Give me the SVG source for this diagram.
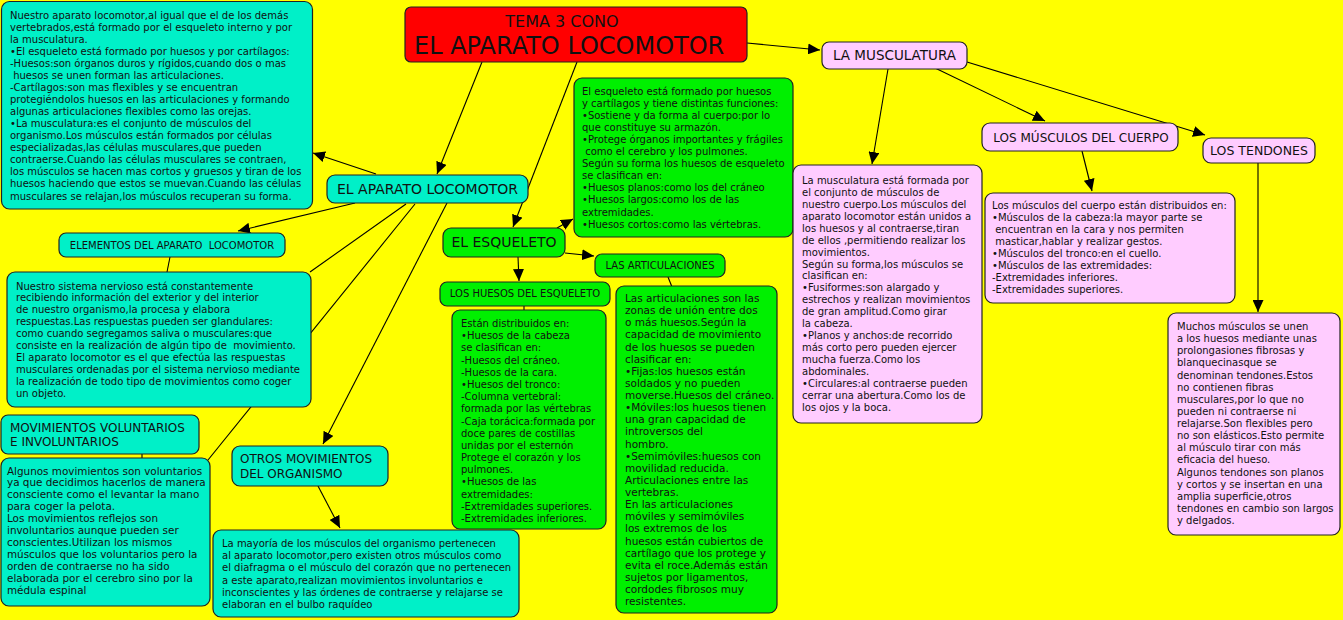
<svg xmlns="http://www.w3.org/2000/svg" width="1343" height="620" viewBox="0 0 1343 620">
<style>
text{font-family:"DejaVu Sans",Verdana,sans-serif;fill:#111;white-space:pre}
.b{font-size:10px}
.b11{font-size:10.4px}
.ba{font-size:10.5px}
.lab{font-size:10px}
.c{text-anchor:middle}
.cy{fill:#00F0C8;stroke:#222;stroke-width:1.2}
.gr{fill:#00F000;stroke:#222;stroke-width:1.2}
.pk{fill:#FFCCFF;stroke:#222;stroke-width:1.2}
.rd{fill:#FF0000;stroke:#222;stroke-width:1.2}
.ln{stroke:#000;stroke-width:1.1;fill:none}
.ar{marker-end:url(#ah)}
</style>
<defs>
<marker id="ah" markerWidth="13" markerHeight="11" refX="12" refY="5.5" orient="auto" markerUnits="userSpaceOnUse"><path d="M0,0 L12,5.5 L0,11 z" fill="#000"/></marker>
</defs>
<rect x="0" y="0" width="1343" height="620" fill="#FFFF00"/>
<g id="connectors">
<path class="ln ar" d="M747,43 L820,50"/>
<path class="ln ar" d="M482,62 L437,174"/>
<path class="ln ar" d="M577,62 L513,227"/>
<path class="ln ar" d="M376,174 L313,153"/>
<path class="ln ar" d="M355,203 L238,231"/>
<path class="ln" d="M406,204 L310,272"/>
<path class="ln" d="M415,204 L208,460"/>
<path class="ln ar" d="M447,203 L323,444"/>
<path class="ln" d="M170,257 L167,272"/>
<path class="ln" d="M142,454 L142,459"/>
<path class="ln ar" d="M318,486 L340,528"/>
<path class="ln ar" d="M557,228 L573,219"/>
<path class="ln ar" d="M565,253 L594,256"/>
<path class="ln ar" d="M518,257 L519,281"/>
<path class="ln" d="M524,306 L524,311"/>
<path class="ln" d="M668,277 L672,287"/>
<path class="ln ar" d="M888,69 L872,164"/>
<path class="ln ar" d="M935,68 L1045,121"/>
<path class="ln ar" d="M967,62 L1205,135"/>
<path class="ln ar" d="M1082,151 L1092,191"/>
<path class="ln ar" d="M1258,163 L1258,312"/>
</g>
<g id="intro">
<rect class="cy" x="1.5" y="1.5" width="311" height="207.5" rx="8"/>
<text class="b" x="10" y="18.5"><tspan x="10">Nuestro aparato locomotor,al igual que el de los demás</tspan><tspan x="10" dy="12.07">vertebrados,está formado por el esqueleto interno y por</tspan><tspan x="10" dy="12.07">la musculatura.</tspan><tspan x="10" dy="12.07">•El esqueleto está formado por huesos y por cartílagos:</tspan><tspan x="10" dy="12.07">-Huesos:son órganos duros y rígidos,cuando dos o mas</tspan><tspan x="10" dy="12.07"> huesos se unen forman las articulaciones.</tspan><tspan x="10" dy="12.07">-Cartílagos:son mas flexibles y se encuentran</tspan><tspan x="10" dy="12.07">protegiéndolos huesos en las articulaciones y formando</tspan><tspan x="10" dy="12.07">algunas articulaciones flexibles como las orejas.</tspan><tspan x="10" dy="12.07">•La musculatura:es el conjunto de músculos del</tspan><tspan x="10" dy="12.07">organismo.Los músculos están formados por células</tspan><tspan x="10" dy="12.07">especializadas,las células musculares,que pueden</tspan><tspan x="10" dy="12.07">contraerse.Cuando las células musculares se contraen,</tspan><tspan x="10" dy="12.07">los músculos se hacen mas cortos y gruesos y tiran de los</tspan><tspan x="10" dy="12.07">huesos haciendo que estos se muevan.Cuando las células</tspan><tspan x="10" dy="12.07">musculares se relajan,los músculos recuperan su forma.</tspan></text>
</g>
<g id="title">
<rect class="rd" x="405" y="7" width="342" height="55" rx="6"/>
<text x="562" y="27" class="c" style="font-size:16px">TEMA 3 CONO</text>
<text x="414" y="54" style="font-size:24px">EL APARATO LOCOMOTOR</text>
</g>
<g id="la-musculatura">
<rect class="pk" x="822" y="42" width="145" height="27" rx="7"/>
<text x="894.5" y="60" class="c" style="font-size:13.5px">LA MUSCULATURA</text>
</g>
<g id="aparato-locomotor">
<rect class="cy" x="327" y="175" width="201" height="28" rx="8"/>
<text x="427.5" y="194" class="c" style="font-size:14px">EL APARATO LOCOMOTOR</text>
</g>
<g id="elementos">
<rect class="cy" x="59" y="233" width="226" height="24" rx="7"/>
<text x="172" y="248.5" class="c lab">ELEMENTOS DEL APARATO  LOCOMOTOR</text>
</g>
<g id="nervioso">
<rect class="cy" x="7" y="272" width="304" height="135" rx="8"/>
<text class="b" x="16" y="289.5"><tspan x="16">Nuestro sistema nervioso está constantemente</tspan><tspan x="16" dy="11.9">recibiendo información del exterior y del interior</tspan><tspan x="16" dy="11.9">de nuestro organismo,la procesa y elabora</tspan><tspan x="16" dy="11.9">respuestas.Las respuestas pueden ser glandulares:</tspan><tspan x="16" dy="11.9">como cuando segregamos saliva o musculares:que</tspan><tspan x="16" dy="11.9">consiste en la realización de algún tipo de  movimiento.</tspan><tspan x="16" dy="11.9">El aparato locomotor es el que efectúa las respuestas</tspan><tspan x="16" dy="11.9">musculares ordenadas por el sistema nervioso mediante</tspan><tspan x="16" dy="11.9">la realización de todo tipo de movimientos como coger</tspan><tspan x="16" dy="11.9">un objeto.</tspan></text>
</g>
<g id="movimientos">
<rect class="cy" x="1" y="415" width="198" height="39" rx="7"/>
<text x="10" y="432" style="font-size:12px"><tspan x="10">MOVIMIENTOS VOLUNTARIOS</tspan><tspan x="10" dy="14">E INVOLUNTARIOS</tspan></text>
</g>
<g id="voluntarios">
<rect class="cy" x="1" y="458" width="209" height="148" rx="8"/>
<text class="b11" x="7" y="474.5"><tspan x="7">Algunos movimientos son voluntarios</tspan><tspan x="7" dy="11.9">ya que decidimos hacerlos de manera</tspan><tspan x="7" dy="11.9">consciente como el levantar la mano</tspan><tspan x="7" dy="11.9">para coger la pelota.</tspan><tspan x="7" dy="11.9">Los movimientos reflejos son</tspan><tspan x="7" dy="11.9">involuntarios aunque pueden ser</tspan><tspan x="7" dy="11.9">conscientes.Utilizan los mismos</tspan><tspan x="7" dy="11.9">músculos que los voluntarios pero la</tspan><tspan x="7" dy="11.9">orden de contraerse no ha sido</tspan><tspan x="7" dy="11.9">elaborada por el cerebro sino por la</tspan><tspan x="7" dy="11.9">médula espinal</tspan></text>
</g>
<g id="otros">
<rect class="cy" x="232" y="446" width="156" height="40" rx="8"/>
<text x="240" y="462.5" style="font-size:12px"><tspan x="240">OTROS MOVIMIENTOS</tspan><tspan x="240" dy="15">DEL ORGANISMO</tspan></text>
</g>
<g id="mayoria">
<rect class="cy" x="213" y="530" width="306" height="87" rx="8"/>
<text class="b" x="222" y="547"><tspan x="222">La mayoría de los músculos del organismo pertenecen</tspan><tspan x="222" dy="12.2">al aparato locomotor,pero existen otros músculos como</tspan><tspan x="222" dy="12.2">el diafragma o el músculo del corazón que no pertenecen</tspan><tspan x="222" dy="12.2">a este aparato,realizan movimientos involuntarios e</tspan><tspan x="222" dy="12.2">inconscientes y las órdenes de contraerse y relajarse se</tspan><tspan x="222" dy="12.2">elaboran en el bulbo raquídeo</tspan></text>
</g>
<g id="esqueleto">
<rect class="gr" x="443" y="228" width="122" height="29" rx="8"/>
<text x="504" y="246.5" class="c" style="font-size:14px">EL ESQUELETO</text>
</g>
<g id="esqueleto-funciones">
<rect class="gr" x="574" y="78" width="219" height="159" rx="8"/>
<text class="b" x="582" y="94.5"><tspan x="582">El esqueleto está formado por huesos</tspan><tspan x="582" dy="12.1">y cartílagos y tiene distintas funciones:</tspan><tspan x="582" dy="12.1">•Sostiene y da forma al cuerpo:por lo</tspan><tspan x="582" dy="12.1">que constituye su armazón.</tspan><tspan x="582" dy="12.1">•Protege órganos importantes y frágiles</tspan><tspan x="582" dy="12.1"> como el cerebro y los pulmones.</tspan><tspan x="582" dy="12.1">Según su forma los huesos de esqueleto</tspan><tspan x="582" dy="12.1">se clasifican en:</tspan><tspan x="582" dy="12.1">•Huesos planos:como los del cráneo</tspan><tspan x="582" dy="12.1">•Huesos largos:como los de las</tspan><tspan x="582" dy="12.1">extremidades.</tspan><tspan x="582" dy="12.1">•Huesos cortos:como las vértebras.</tspan></text>
</g>
<g id="huesos-label">
<rect class="gr" x="440" y="282" width="170" height="24" rx="7"/>
<text x="525" y="297" class="c lab">LOS HUESOS DEL ESQUELETO</text>
</g>
<g id="huesos-box">
<rect class="gr" x="452" y="310" width="154" height="219" rx="8"/>
<text class="b" x="461" y="327"><tspan x="461">Están distribuidos en:</tspan><tspan x="461" dy="12.19">•Huesos de la cabeza</tspan><tspan x="461" dy="12.19">se clasifican en:</tspan><tspan x="461" dy="12.19">-Huesos del cráneo.</tspan><tspan x="461" dy="12.19">-Huesos de la cara.</tspan><tspan x="461" dy="12.19">•Huesos del tronco:</tspan><tspan x="461" dy="12.19">-Columna vertebral:</tspan><tspan x="461" dy="12.19">formada por las vértebras</tspan><tspan x="461" dy="12.19">-Caja torácica:formada por</tspan><tspan x="461" dy="12.19">doce pares de costillas</tspan><tspan x="461" dy="12.19">unidas por el esternón</tspan><tspan x="461" dy="12.19">Protege el corazón y los</tspan><tspan x="461" dy="12.19">pulmones.</tspan><tspan x="461" dy="12.19">•Huesos de las</tspan><tspan x="461" dy="12.19">extremidades:</tspan><tspan x="461" dy="12.19">-Extremidades superiores.</tspan><tspan x="461" dy="12.19">-Extremidades inferiores.</tspan></text>
</g>
<g id="articulaciones-label">
<rect class="gr" x="595" y="254" width="130" height="23" rx="7"/>
<text x="660" y="269" class="c lab">LAS ARTICULACIONES</text>
</g>
<g id="articulaciones-box">
<rect class="gr" x="616" y="286" width="161" height="327" rx="8"/>
<text class="ba" x="625" y="302"><tspan x="625">Las articulaciones son las</tspan><tspan x="625" dy="12.13">zonas de unión entre dos</tspan><tspan x="625" dy="12.13">o más huesos.Según la</tspan><tspan x="625" dy="12.13">capacidad de movimiento</tspan><tspan x="625" dy="12.13">de los huesos se pueden</tspan><tspan x="625" dy="12.13">clasificar en:</tspan><tspan x="625" dy="12.13">•Fijas:los huesos están</tspan><tspan x="625" dy="12.13">soldados y no pueden</tspan><tspan x="625" dy="12.13">moverse.Huesos del cráneo.</tspan><tspan x="625" dy="12.13">•Móviles:los huesos tienen</tspan><tspan x="625" dy="12.13">una gran capacidad de</tspan><tspan x="625" dy="12.13">introversos del</tspan><tspan x="625" dy="12.13">hombro.</tspan><tspan x="625" dy="12.13">•Semimóviles:huesos con</tspan><tspan x="625" dy="12.13">movilidad reducida.</tspan><tspan x="625" dy="12.13">Articulaciones entre las</tspan><tspan x="625" dy="12.13">vertebras.</tspan><tspan x="625" dy="12.13">En las articulaciones</tspan><tspan x="625" dy="12.13">móviles y semimóviles</tspan><tspan x="625" dy="12.13">los extremos de los</tspan><tspan x="625" dy="12.13">huesos están cubiertos de</tspan><tspan x="625" dy="12.13">cartílago que los protege y</tspan><tspan x="625" dy="12.13">evita el roce.Además están</tspan><tspan x="625" dy="12.13">sujetos por ligamentos,</tspan><tspan x="625" dy="12.13">cordodes fibrosos muy</tspan><tspan x="625" dy="12.13">resistentes.</tspan></text>
</g>
<g id="musculatura-box">
<rect class="pk" x="793" y="165" width="189" height="258" rx="8"/>
<text class="b" x="802" y="184"><tspan x="802">La musculatura está formada por</tspan><tspan x="802" dy="11.93">el conjunto de músculos de</tspan><tspan x="802" dy="11.93">nuestro cuerpo.Los músculos del</tspan><tspan x="802" dy="11.93">aparato locomotor están unidos a</tspan><tspan x="802" dy="11.93">los huesos y al contraerse,tiran</tspan><tspan x="802" dy="11.93">de ellos ,permitiendo realizar los</tspan><tspan x="802" dy="11.93">movimientos.</tspan><tspan x="802" dy="11.93">Según su forma,los músculos se</tspan><tspan x="802" dy="11.93">clasifican en:</tspan><tspan x="802" dy="11.93">•Fusiformes:son alargado y</tspan><tspan x="802" dy="11.93">estrechos y realizan movimientos</tspan><tspan x="802" dy="11.93">de gran amplitud.Como girar</tspan><tspan x="802" dy="11.93">la cabeza.</tspan><tspan x="802" dy="11.93">•Planos y anchos:de recorrido</tspan><tspan x="802" dy="11.93">más corto pero pueden ejercer</tspan><tspan x="802" dy="11.93">mucha fuerza.Como los</tspan><tspan x="802" dy="11.93">abdominales.</tspan><tspan x="802" dy="11.93">•Circulares:al contraerse pueden</tspan><tspan x="802" dy="11.93">cerrar una abertura.Como los de</tspan><tspan x="802" dy="11.93">los ojos y la boca.</tspan></text>
</g>
<g id="musculos-label">
<rect class="pk" x="982" y="123" width="196" height="28" rx="8"/>
<text x="1081" y="142" class="c" style="font-size:12px">LOS MÚSCULOS DEL CUERPO</text>
</g>
<g id="musculos-box">
<rect class="pk" x="985" y="193" width="250" height="110" rx="8"/>
<text class="b" x="992" y="208.5"><tspan x="992">Los músculos del cuerpo están distribuidos en:</tspan><tspan x="992" dy="12">•Músculos de la cabeza:la mayor parte se</tspan><tspan x="992" dy="12"> encuentran en la cara y nos permiten</tspan><tspan x="992" dy="12"> masticar,hablar y realizar gestos.</tspan><tspan x="992" dy="12">•Músculos del tronco:en el cuello.</tspan><tspan x="992" dy="12">•Músculos de las extremidades:</tspan><tspan x="992" dy="12">-Extremidades inferiores.</tspan><tspan x="992" dy="12">-Extremidades superiores.</tspan></text>
</g>
<g id="tendones-label">
<rect class="pk" x="1203" y="138" width="112" height="25" rx="8"/>
<text x="1259" y="155" class="c" style="font-size:12.5px">LOS TENDONES</text>
</g>
<g id="tendones-box">
<rect class="pk" x="1168" y="313" width="172" height="222" rx="8"/>
<text class="b" x="1177" y="330"><tspan x="1177">Muchos músculos se unen</tspan><tspan x="1177" dy="12.125">a los huesos mediante unas</tspan><tspan x="1177" dy="12.125">prolongasiones fibrosas y</tspan><tspan x="1177" dy="12.125">blanquecinasque se</tspan><tspan x="1177" dy="12.125">denominan tendones.Estos</tspan><tspan x="1177" dy="12.125">no contienen fibras</tspan><tspan x="1177" dy="12.125">musculares,por lo que no</tspan><tspan x="1177" dy="12.125">pueden ni contraerse ni</tspan><tspan x="1177" dy="12.125">relajarse.Son flexibles pero</tspan><tspan x="1177" dy="12.125">no son elásticos.Esto permite</tspan><tspan x="1177" dy="12.125">al músculo tirar con más</tspan><tspan x="1177" dy="12.125">eficacia del hueso.</tspan><tspan x="1177" dy="12.125">Algunos tendones son planos</tspan><tspan x="1177" dy="12.125">y cortos y se insertan en una</tspan><tspan x="1177" dy="12.125">amplia superficie,otros</tspan><tspan x="1177" dy="12.125">tendones en cambio son largos</tspan><tspan x="1177" dy="12.125">y delgados.</tspan></text>
</g>
</svg>
